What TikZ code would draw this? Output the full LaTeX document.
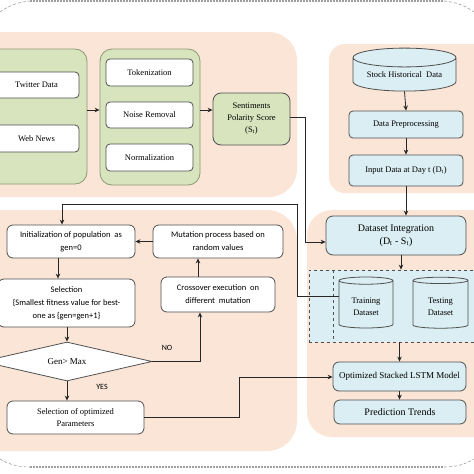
\documentclass[tikz,border=0pt]{standalone}
\usepackage{fontspec}
\setmainfont{Liberation Serif}
\newfontfamily\calib{Carlito}
\usetikzlibrary{arrows.meta,shapes.geometric}
\definecolor{peach}{HTML}{FBE5D6}
\definecolor{leaf}{HTML}{D7E4BD}
\definecolor{sky}{HTML}{DAEEF3}
\definecolor{edge}{HTML}{505050}
\definecolor{leafedge}{HTML}{8C9A72}
\begin{document}
\begin{tikzpicture}[x=1pt,y=-1pt,
  box/.style={draw=edge, line width=0.8pt, rounded corners=4pt, align=center, inner sep=1pt, font=\rmfamily\fontsize{8.5}{12}\selectfont},
  wbox/.style={box, fill=white},
  bbox/.style={box, fill=sky},
  gbox/.style={draw=leafedge, line width=0.8pt, fill=leaf, rounded corners=12pt},
  gabox/.style={wbox, font=\calib\fontsize{8.5}{13}\selectfont},
  dbcyl/.style={cylinder, shape border rotate=90, draw=edge, line width=0.8pt, fill=sky, aspect=0.25, align=center, inner sep=0pt, font=\rmfamily\fontsize{8.5}{12}\selectfont},
  arr/.style={-{Stealth[length=5pt,width=4.5pt]}, line width=0.8pt, draw=black!85},
  peacharea/.style={fill=peach},
  frame/.style={draw=gray!75, line width=1.3pt, dash pattern=on 1.6pt off 1.4pt},
  framecorner/.style={draw=gray!75, line width=0.6pt, dash pattern=on 3pt off 2pt},
  lbl/.style={font=\calib\fontsize{8}{10}\selectfont, inner sep=0pt}
]
\useasboundingbox (0,0) rectangle (474,474);

% outer frame
\draw[frame] (30,1) -- (444,1);
\draw[frame] (30,467) -- (444,467);
\draw[framecorner] (0,12) .. controls (8,6) and (18,2) .. (30,1);
\draw[framecorner] (444,1) .. controls (456,2) and (466,6) .. (474,12);
\draw[framecorner] (0,459) .. controls (8,464) and (18,467) .. (30,467);
\draw[framecorner] (444,467) .. controls (456,467) and (466,464) .. (474,459);

% background areas
\fill[peacharea, rounded corners=28pt] (-30,32) rectangle (297,197);
\fill[peacharea, rounded corners=16pt] (329,44) rectangle (495,193);
\fill[peacharea, rounded corners=30pt] (-30,210) rectangle (297,451);
\fill[peacharea, rounded corners=25pt] (307,210) rectangle (500,437);

% text sources
\node[gbox, minimum width=101pt, minimum height=135pt] (green1) at (36.5,116.5) {};
\node[wbox, minimum width=85pt, minimum height=26pt] (twitter) at (36.5,85) {Twitter Data};
\node[wbox, minimum width=85pt, minimum height=27pt] (web) at (36.5,138.5) {Web News};
\node[gbox, minimum width=100pt, minimum height=136pt] (green2) at (150,117) {};
\node[wbox, minimum width=87pt, minimum height=27pt] (tok) at (149.5,72.5) {Tokenization};
\node[wbox, minimum width=87pt, minimum height=26pt] (noise) at (149.5,115) {Noise Removal};
\node[wbox, minimum width=87pt, minimum height=27pt] (norm) at (149.5,157.5) {Normalization};
\node[box, draw=edge, fill=leaf, rounded corners=8pt, minimum width=77pt, minimum height=52pt] (sent) at (251.5,119) {Sentiments\\Polarity Score\\(S\textsubscript{t})};

% stock data
\node[dbcyl, minimum width=103pt, minimum height=43pt] (stock) at (404.5,74.5) {Stock Historical\ \ Data};
\node[bbox, minimum width=114pt, minimum height=27pt] (prep) at (406,124.5) {Data Preprocessing};
\node[bbox, minimum width=114pt, minimum height=31pt] (input) at (406,170.5) {Input Data at Day t (D\textsubscript{t})};

% model side
\node[bbox, rounded corners=7pt, minimum width=140pt, minimum height=39pt, font=\rmfamily\fontsize{10}{13}\selectfont] (integ) at (396,235.5) {Dataset Integration\\(D\textsubscript{t} - S\textsubscript{t})};
\node[draw=edge, line width=0.8pt, dashed, fill=sky, minimum width=181pt, minimum height=72pt, inner sep=0pt] (dset) at (399.5,306) {};
\draw[draw=edge, line width=0.8pt, dashed] (333,270) -- (333,342);
\node[dbcyl, minimum width=54pt, minimum height=51pt] (train) at (366,304.5) {\\[-2pt]Training\\Dataset};
\node[dbcyl, minimum width=55pt, minimum height=51pt] (test) at (440.5,304.5) {\\[-2pt]Testing\\Dataset};
\node[bbox, rounded corners=6pt, minimum width=133pt, minimum height=29pt, font=\rmfamily\fontsize{9}{12}\selectfont] (lstm) at (399.5,376.5) {Optimized Stacked LSTM Model};
\node[bbox, rounded corners=6pt, minimum width=132pt, minimum height=24pt, font=\rmfamily\fontsize{10}{12}\selectfont] (pred) at (400,412) {Prediction Trends};

% GA side
\node[gabox, rounded corners=6pt, minimum width=128pt, minimum height=33pt] (init) at (71,241.5) {Initialization of population\ \ as\\gen=0};
\node[gabox, rounded corners=6pt, minimum width=130pt, minimum height=33pt] (mut) at (218,241.5) {Mutation process based on\\random values};
\node[gabox, rounded corners=6pt, minimum width=137pt, minimum height=48pt] (sel) at (66.5,303) {Selection\\\{Smallest fitness value for best-\\one as \{gen=gen+1\}};
\node[gabox, rounded corners=6pt, minimum width=114pt, minimum height=35pt] (cross) at (218,294.5) {Crossover execution\ \ on\\different\ \ mutation};
\node[diamond, draw=edge, line width=0.8pt, fill=white, minimum width=170pt, minimum height=39pt, aspect=4.36, inner sep=0pt, font=\rmfamily\fontsize{9}{11}\selectfont] (dia) at (67,361.5) {Gen> Max};
\node[box, fill=white, rounded corners=6pt, minimum width=137pt, minimum height=33pt] (params) at (75.5,417.5) {Selection of optimized\\Parameters};
\node[lbl] (no) at (167,348) {NO};
\node[lbl] (yes) at (102,387) {YES};

% coordinates for routing
\coordinate (ay) at (0,110);
\coordinate (j1) at (305,242);
\coordinate (k1) at (297,204);
\coordinate (k2) at (62,204);
\coordinate (m) at (239,377);

% connectors
\draw[arr] (green1.east |- ay) -- (green2.west |- ay);
\draw[arr] (green2.east |- ay) -- (sent.west |- ay);
\draw[arr] ([yshift=2pt]sent.east) -| (j1) -- (integ.west |- j1);
\draw[arr] (stock.bottom) -- (prep.north);
\draw[arr] (prep) -- (input);
\draw[arr] (input.south) -- (input.south |- integ.north);
\draw[arr] ([xshift=5pt]integ.south) -- ([xshift=5pt]integ.south |- dset.north);
\draw[arr] (dset.south) -- (dset.south |- lstm.north);
\draw[arr] (lstm.south) -- (lstm.south |- pred.north);
\draw[arr] ([yshift=8pt]train.west) -| (k1) -- (k2) -- (k2 |- init.north);
\draw[arr] (mut.west) -- (init.east);
\draw[arr] ([xshift=-13pt]init.south) -- ([xshift=-13pt]init.south |- sel.north);
\draw[arr] (sel.south -| dia.north) -- (dia.north);
\draw[arr] (dia.east) -| ([xshift=-18pt]cross.south);
\draw[arr] ([xshift=-20pt]cross.north) -- ([xshift=-20pt]cross.north |- mut.south);
\draw[arr] (dia.south) -- (dia.south |- params.north);
\draw[arr] (params.east) -| (m) -- (lstm.west |- m);
\end{tikzpicture}
\end{document}
